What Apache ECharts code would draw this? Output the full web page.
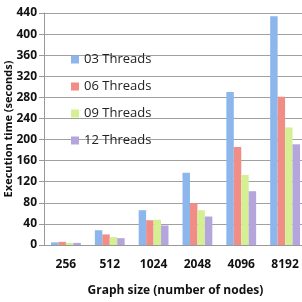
<!DOCTYPE html>
<html lang="en">
<head>
    <meta charset="UTF-8">
    <title>Execution time</title>
    <script src="https://cdn.jsdelivr.net/npm/echarts@6/dist/echarts.min.js"></script>
    <style>
        html, body { margin: 0; padding: 0; background: #fff; }
        #chart { width: 302px; height: 302px; }
    </style>
</head>
<body>
<div id="chart"></div>
<script>
    // graph sizes
    var sizes = ['256', '512', '1024', '2048', '4096', '8192'];
    // execution time per thread count (seconds)
    var t03 = [5, 28, 66, 137, 290, 434];
    var t06 = [6, 20, 47, 79, 186, 281];
    var t09 = [4, 15, 48, 66, 133, 223];
    var t12 = [4, 13, 37, 54, 102, 191];
    var names = ['03 Threads', '06 Threads', '09 Threads', '12 Threads'];
    var colors = ['#8cb6ec', '#ef8d86', '#d5f093', '#b5a5dd'];

    var font = 'Open Sans';
    var all = [t03, t06, t09, t12];
    var series = [];
    for (var i = 0; i < all.length; i++) {
        series.push({
            name: names[i],
            type: 'bar',
            data: all[i],
            barGap: '0%',
            barCategoryGap: '32%',
            itemStyle: {color: colors[i]}
        });
    }

    var chart = echarts.init(document.getElementById('chart'));
    chart.setOption({
        animation: false,
        textStyle: {fontFamily: font},
        // plot runs a little past the right edge, like the original
        grid: {left: 44, right: -5, top: 13, bottom: 57, outerBoundsMode: 'none'},
        legend: {
            orient: 'vertical',
            left: 66,
            top: 48,
            itemWidth: 8,
            itemHeight: 8,
            itemGap: 14,
            icon: 'rect',
            textStyle: {fontSize: 13, color: '#222', fontFamily: font}
        },
        xAxis: {
            type: 'category',
            data: sizes,
            name: 'Graph size (number of nodes)',
            nameLocation: 'middle',
            nameGap: 40,
            nameTextStyle: {fontSize: 12, fontWeight: 'bold', color: '#111'},
            axisLine: {lineStyle: {color: '#999'}},
            axisTick: {show: false},
            splitLine: {show: false},
            axisLabel: {fontSize: 12, fontWeight: 'bold', color: '#111', margin: 14}
        },
        yAxis: {
            type: 'value',
            min: 0,
            max: 440,
            interval: 40,
            name: 'Execution time (seconds)',
            nameLocation: 'middle',
            nameGap: 30,
            nameMoveOverlap: false,
            nameTextStyle: {fontSize: 11, fontWeight: 'bold', color: '#111'},
            axisLine: {show: true, lineStyle: {color: '#999'}},
            axisTick: {show: true, length: 5, lineStyle: {color: '#999'}},
            axisLabel: {fontSize: 12, fontWeight: 'bold', color: '#111', margin: 7},
            splitLine: {lineStyle: {color: '#a0a0a0'}}
        },
        series: series
    });
</script>
</body>
</html>
